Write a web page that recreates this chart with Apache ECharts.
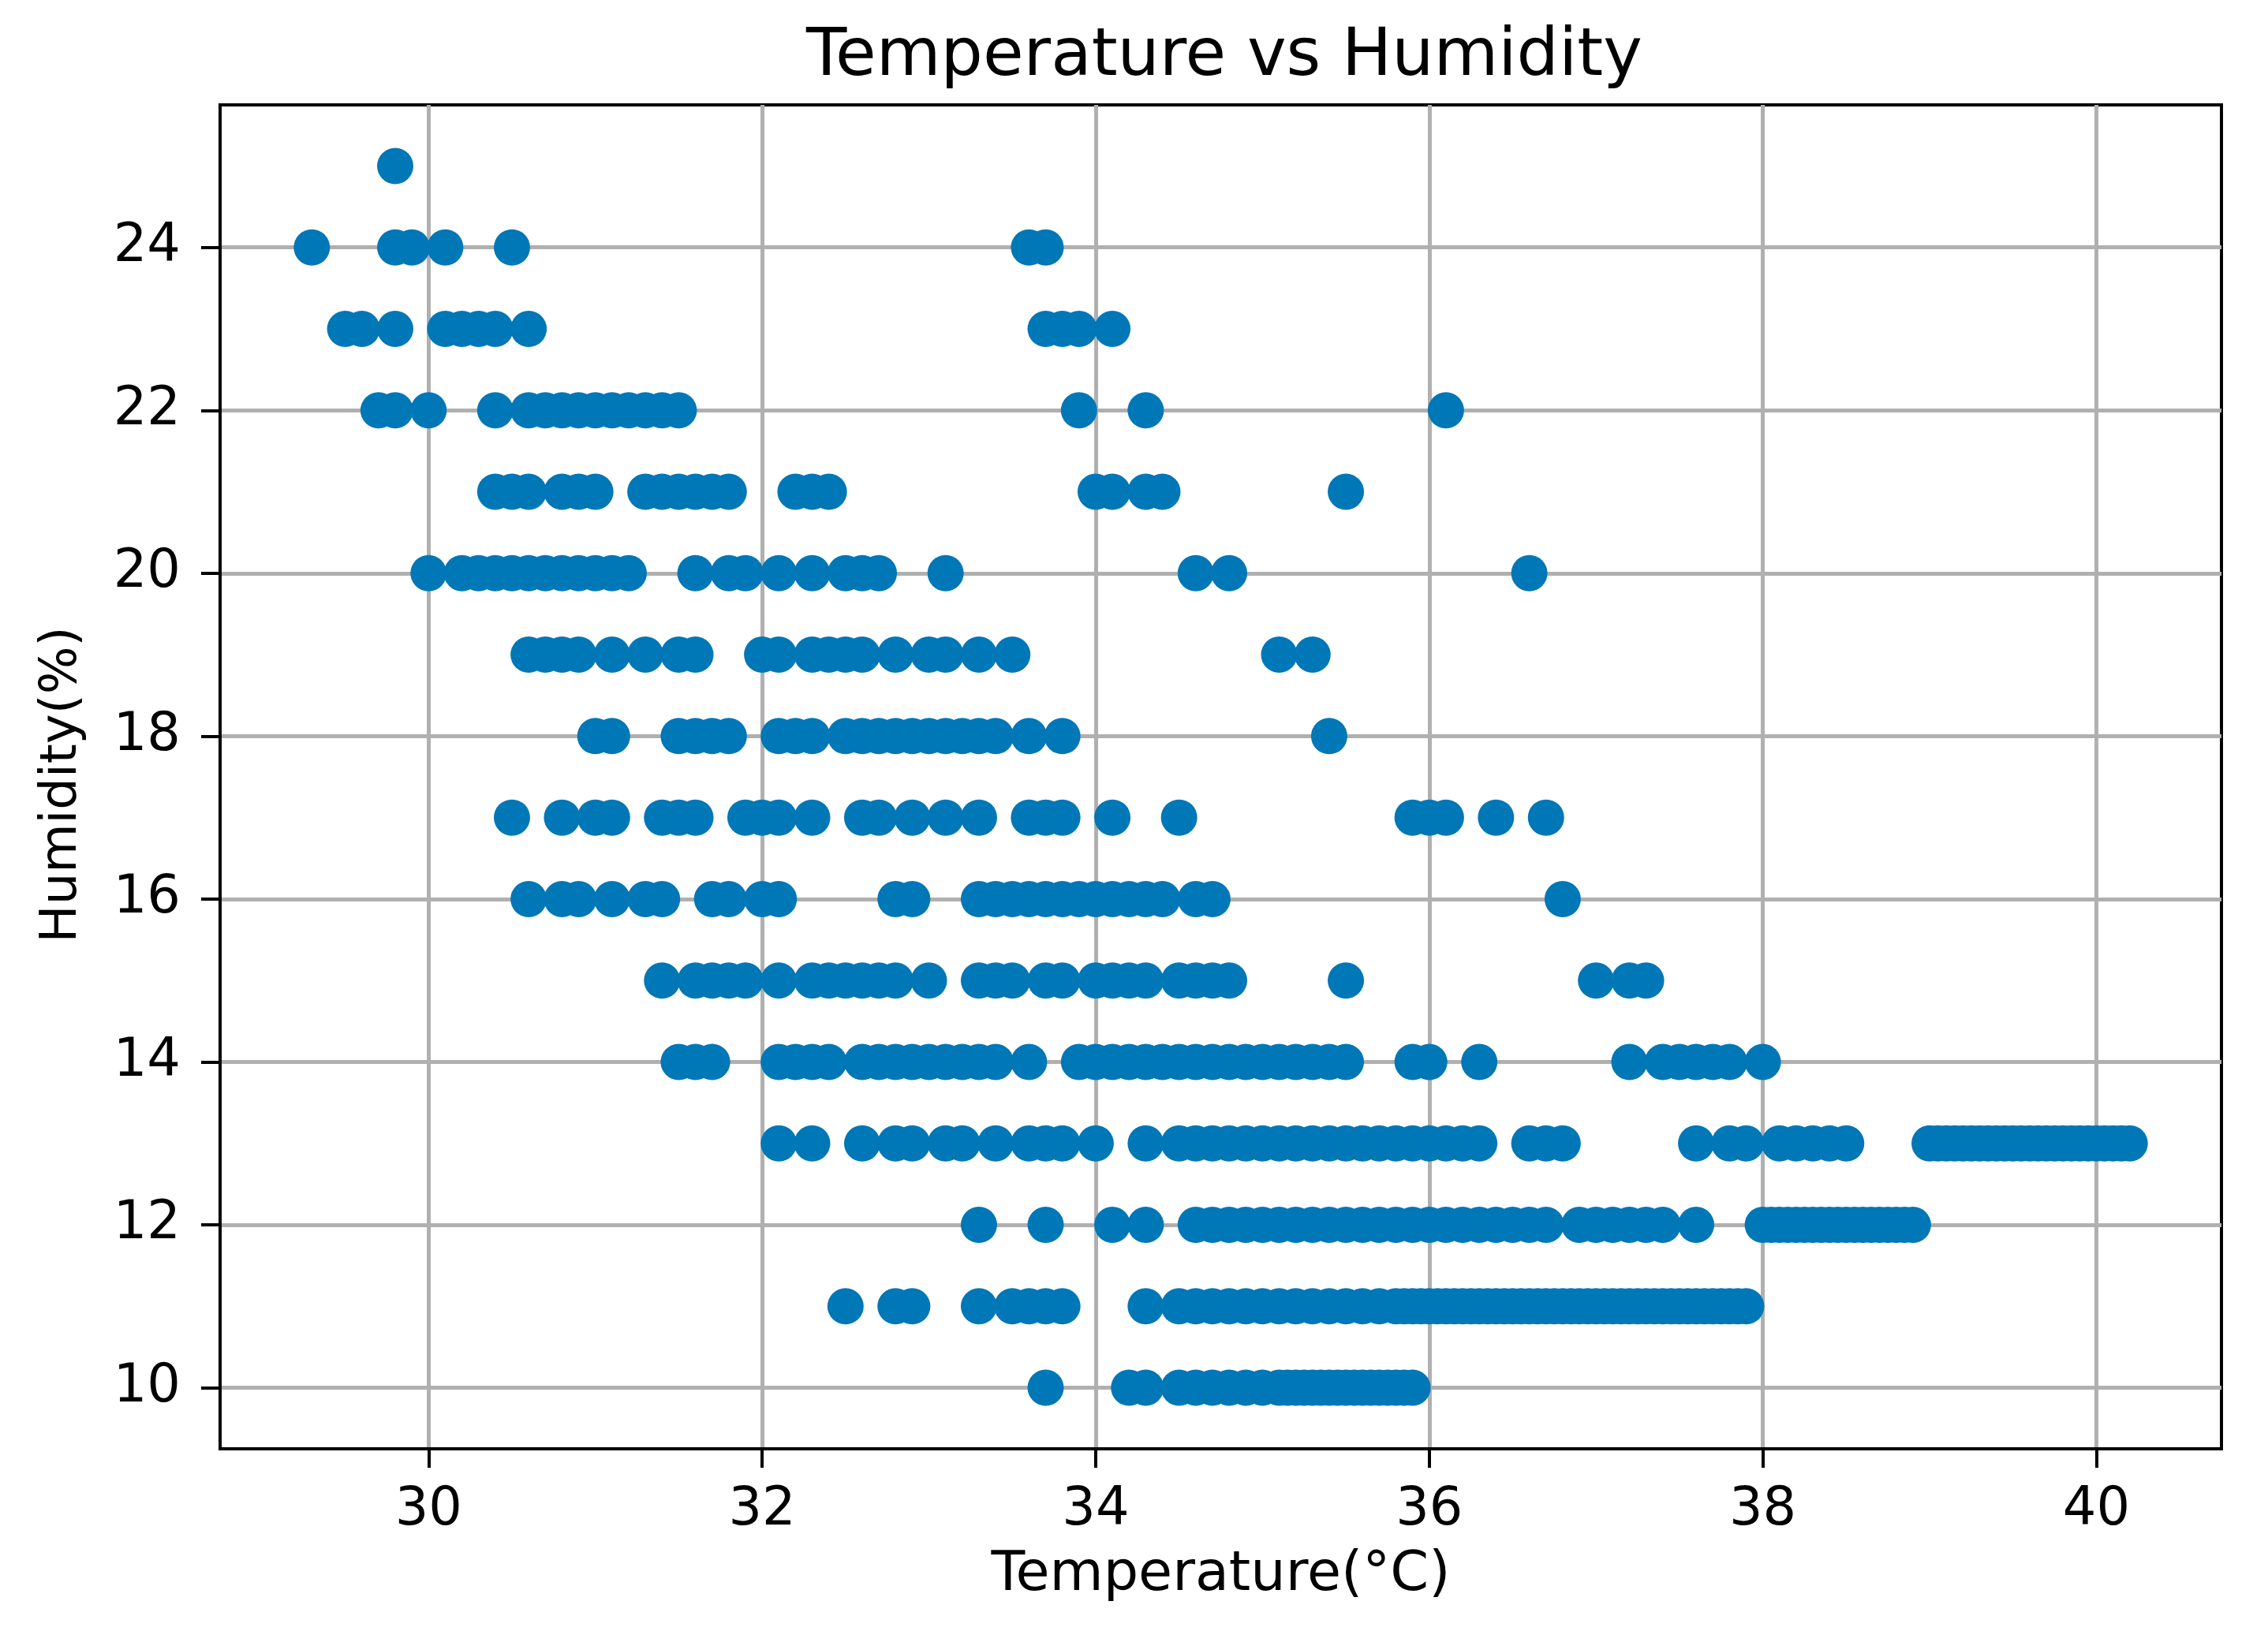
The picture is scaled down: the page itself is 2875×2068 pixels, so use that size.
<!DOCTYPE html>
<html>
<head>
<meta charset="utf-8">
<script src="https://cdn.jsdelivr.net/npm/echarts@6/dist/echarts.min.js"></script>
<style>
html,body{margin:0;padding:0;background:#fff;}
#chart{width:2875px;height:2068px;}
</style>
</head>
<body>
<div id="chart"></div>
<script>
// Temperatures (°C) observed at each humidity level (%)
const h25 = [29.8];
const h24 = [29.3, 29.8, 29.9, 30.1, 30.5, 33.6, 33.7];
const h23 = [29.5, 29.6, 29.8, 30.1, 30.2, 30.3, 30.4, 30.6, 33.7, 33.8, 33.9, 34.1];
const h22 = [29.7, 29.8, 30.0, 30.4, 30.6, 30.7, 30.8, 30.9, 31.0, 31.1, 31.2, 31.3, 31.4, 31.5, 33.9, 34.3, 36.1];
const h21 = [30.4, 30.5, 30.6, 30.8, 30.9, 31.0, 31.3, 31.4, 31.5, 31.6, 31.7, 31.8, 32.2, 32.3, 32.4, 34.0, 34.1, 34.3, 34.4, 35.5];
const h20 = [30.0, 30.2, 30.3, 30.4, 30.5, 30.6, 30.7, 30.8, 30.9, 31.0, 31.1, 31.2, 31.6, 31.8, 31.9, 32.1, 32.3, 32.5, 32.6, 32.7, 33.1, 34.6, 34.8, 36.6];
const h19 = [30.6, 30.7, 30.8, 30.9, 31.1, 31.3, 31.5, 31.6, 32.0, 32.1, 32.3, 32.4, 32.5, 32.6, 32.8, 33.0, 33.1, 33.3, 33.5, 35.1, 35.3];
const h18 = [31.0, 31.1, 31.5, 31.6, 31.7, 31.8, 32.1, 32.2, 32.3, 32.5, 32.6, 32.7, 32.8, 32.9, 33.0, 33.1, 33.2, 33.3, 33.4, 33.6, 33.8, 35.4];
const h17 = [30.5, 30.8, 31.0, 31.1, 31.4, 31.5, 31.6, 31.9, 32.0, 32.1, 32.3, 32.6, 32.7, 32.9, 33.1, 33.3, 33.6, 33.7, 33.8, 34.1, 34.5, 35.9, 36.0, 36.1, 36.4, 36.7];
const h16 = [30.6, 30.8, 30.9, 31.1, 31.3, 31.4, 31.7, 31.8, 32.0, 32.1, 32.8, 32.9, 33.3, 33.4, 33.5, 33.6, 33.7, 33.8, 33.9, 34.0, 34.1, 34.2, 34.3, 34.4, 34.6, 34.7, 36.8];
const h15 = [31.4, 31.6, 31.7, 31.8, 31.9, 32.1, 32.3, 32.4, 32.5, 32.6, 32.7, 32.8, 33.0, 33.3, 33.4, 33.5, 33.7, 33.8, 34.0, 34.1, 34.2, 34.3, 34.5, 34.6, 34.7, 34.8, 35.5, 37.0, 37.2, 37.3];
const h14 = [31.5, 31.6, 31.7, 32.1, 32.2, 32.3, 32.4, 32.6, 32.7, 32.8, 32.9, 33.0, 33.1, 33.2, 33.3, 33.4, 33.6,
  33.9, 34.0, 34.1, 34.2, 34.3, 34.4, 34.5, 34.6, 34.7, 34.8, 34.9, 35.0, 35.1, 35.2, 35.3, 35.4, 35.5,
  35.9, 36.0, 36.3, 37.2, 37.4, 37.5, 37.6, 37.7, 37.8, 38.0];
const h13 = [32.1, 32.3, 32.6, 32.8, 32.9, 33.1, 33.2, 33.4, 33.6, 33.7, 33.8, 34.0, 34.3,
  34.5, 34.6, 34.7, 34.8, 34.9, 35.0, 35.1, 35.2, 35.3, 35.4, 35.5, 35.6, 35.7, 35.8, 35.9, 36.0, 36.1, 36.2, 36.3,
  36.6, 36.7, 36.8, 37.6, 37.8, 37.9, 38.1, 38.2, 38.3, 38.4, 38.5,
  39.0, 39.05, 39.1, 39.15, 39.2, 39.25, 39.3, 39.35, 39.4, 39.45, 39.5, 39.55, 39.6, 39.65, 39.7, 39.75,
  39.8, 39.85, 39.9, 39.95, 40.0, 40.05, 40.1, 40.15, 40.2];
const h12 = [33.3, 33.7, 34.1, 34.3,
  34.6, 34.7, 34.8, 34.9, 35.0, 35.1, 35.2, 35.3, 35.4, 35.5, 35.6, 35.7, 35.8, 35.9, 36.0, 36.1, 36.2, 36.3, 36.4, 36.5, 36.6, 36.7,
  36.9, 37.0, 37.1, 37.2, 37.3, 37.4, 37.6,
  38.0, 38.05, 38.1, 38.15, 38.2, 38.25, 38.3, 38.35, 38.4, 38.45, 38.5, 38.55, 38.6, 38.65, 38.7, 38.75, 38.8, 38.85, 38.9];
const h11 = [32.5, 32.8, 32.9, 33.3, 33.5, 33.6, 33.7, 33.8, 34.3,
  34.5, 34.6, 34.7, 34.8, 34.9, 35.0, 35.1, 35.2, 35.3, 35.4, 35.5, 35.6, 35.7, 35.8,
  35.85, 35.9, 35.95, 36.0, 36.05, 36.1, 36.15, 36.2, 36.25, 36.3, 36.35, 36.4, 36.45, 36.5, 36.55, 36.6, 36.65,
  36.7, 36.75, 36.8, 36.85, 36.9, 36.95, 37.0, 37.05, 37.1, 37.15, 37.2, 37.25, 37.3, 37.35, 37.4, 37.45,
  37.5, 37.55, 37.6, 37.65, 37.7, 37.75, 37.8, 37.85, 37.9];
const h10 = [33.7, 34.2, 34.3, 34.5, 34.6, 34.7, 34.8, 34.9, 35.0, 35.1,
  35.15, 35.2, 35.25, 35.3, 35.35, 35.4, 35.45, 35.5, 35.55, 35.6, 35.65, 35.7, 35.75, 35.8, 35.85, 35.9];

const humidityLevels = [25, 24, 23, 22, 21, 20, 19, 18, 17, 16, 15, 14, 13, 12, 11, 10];
const rows = [h25, h24, h23, h22, h21, h20, h19, h18, h17, h16, h15, h14, h13, h12, h11, h10];

const xTicks = [30, 32, 34, 36, 38, 40];
const yTicks = [10, 12, 14, 16, 18, 20, 22, 24];

const points = [];
rows.forEach((temps, i) => temps.forEach(t => points.push([t, humidityLevels[i]])));

const FONT = 'DejaVu Sans';
const chart = echarts.init(document.getElementById('chart'), null, {renderer: 'canvas'});
chart.setOption({
  backgroundColor: '#ffffff',
  animation: false,
  title: {
    text: 'Temperature vs Humidity',
    left: 1547,
    textAlign: 'center',
    top: 26,
    textStyle: {fontFamily: FONT, fontSize: 84, fontWeight: 'normal', color: '#000'}
  },
  grid: {
    left: 279, right: 59, top: 133, bottom: 231,
    show: true, borderColor: '#000', borderWidth: 4, backgroundColor: 'transparent'
  },
  xAxis: {
    type: 'value',
    min: 28.75, max: 40.75,
    name: 'Temperature(°C)',
    nameLocation: 'middle',
    nameGap: 126,
    nameTextStyle: {fontFamily: FONT, fontSize: 70, color: '#000'},
    axisLine: {show: true, onZero: false, lineStyle: {color: '#000', width: 4}},
    axisTick: {show: true, inside: false, length: 24, lineStyle: {color: '#000', width: 4}, customValues: xTicks},
    axisLabel: {fontFamily: FONT, fontSize: 67, color: '#000', margin: 45, customValues: xTicks},
    splitLine: {show: true, lineStyle: {color: '#b0b0b0', width: 5}, customValues: xTicks}
  },
  yAxis: {
    type: 'value',
    min: 9.25, max: 25.75,
    name: 'Humidity(%)',
    nameLocation: 'middle',
    nameGap: 168,
    nameRotate: 90,
    nameTextStyle: {fontFamily: FONT, fontSize: 64, color: '#000', padding: [0, 20, 0, 0]},
    axisLine: {show: true, onZero: false, lineStyle: {color: '#000', width: 4}},
    axisTick: {show: true, inside: false, length: 24, lineStyle: {color: '#000', width: 4}, customValues: yTicks},
    axisLabel: {fontFamily: FONT, fontSize: 67, color: '#000', margin: 50, customValues: yTicks},
    splitLine: {show: true, lineStyle: {color: '#b0b0b0', width: 5}, customValues: yTicks}
  },
  series: [{
    type: 'scatter',
    data: points,
    symbol: 'circle',
    symbolSize: 46,
    itemStyle: {color: '#0077b6', opacity: 1},
    emphasis: {disabled: true}
  }]
});
</script>
</body>
</html>
